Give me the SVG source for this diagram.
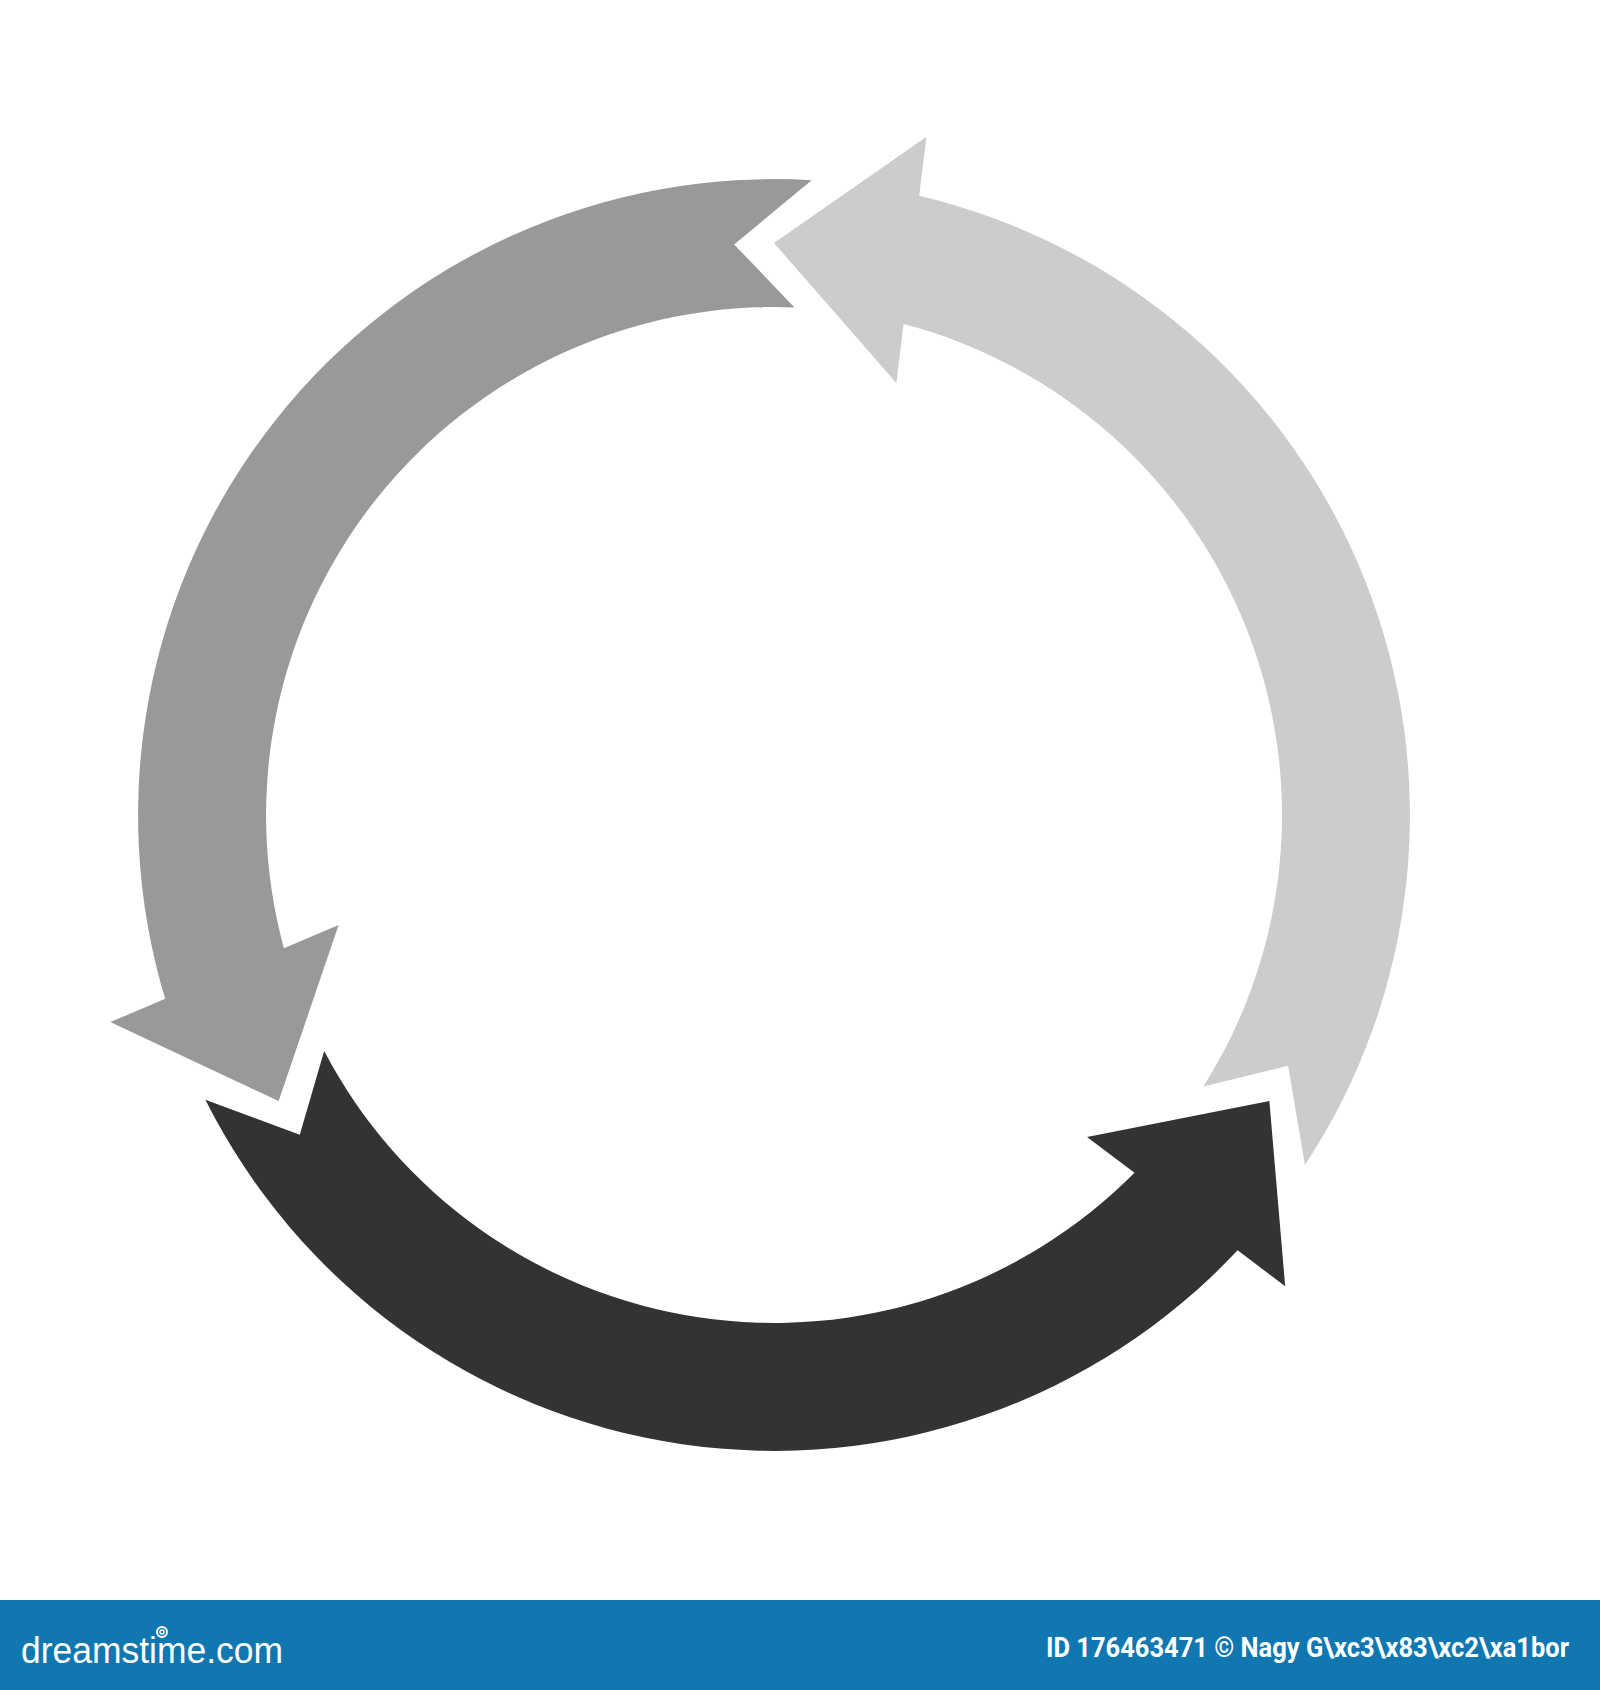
<svg xmlns="http://www.w3.org/2000/svg" xmlns:xlink="http://www.w3.org/1999/xlink" width="1600" height="1690" viewBox="0 0 1600 1690">
  <style>
    .a1 { fill: #cccccc; }
    .a2 { fill: #333333; }
    .a3 { fill: #999999; }
    .bar { fill: #1077b0; }
    .logo { font-family: "Liberation Sans", Arial, sans-serif; font-size: 36px; fill: #ffffff; }
    .credit { font-family: Roboto, "Liberation Sans", sans-serif; font-weight: 700; font-size: 27px; fill: #ffffff; }
  </style>
  <defs>
    <path id="arrow" d="M 1304.9 1165.1 A 636 636 0 0 0 919.2 195.85 L 926.5 136.7 L 774 243 L 896.4 382.9 L 903.6 323.9 A 508 508 0 0 1 1203.4 1086.5 L 1288.1 1065.8 Z"/>
  </defs>
  <rect x="0" y="0" width="1600" height="1690" fill="#ffffff"/>
  <g id="arrow-light">
    <use xlink:href="#arrow" href="#arrow" class="a1"/>
  </g>
  <g id="arrow-dark">
    <use xlink:href="#arrow" href="#arrow" class="a2" transform="rotate(120 774 815)"/>
  </g>
  <g id="arrow-mid">
    <use xlink:href="#arrow" href="#arrow" class="a3" transform="rotate(240 774 815)"/>
  </g>
  <g id="connectors"></g>
  <g id="footer">
    <rect class="bar" x="0" y="1600" width="1600" height="90"/>
    <text class="logo" x="21" y="1663" textLength="262" lengthAdjust="spacingAndGlyphs">dreamstime.com</text>
    <circle cx="162" cy="1632" r="5" fill="none" stroke="#ffffff" stroke-width="2"/>
    <circle cx="162" cy="1632" r="2" fill="none" stroke="#ffffff" stroke-width="1.5"/>
    <text class="credit" x="1046" y="1657" textLength="523" lengthAdjust="spacingAndGlyphs">ID 176463471 © Nagy G\xc3\x83\xc2\xa1bor</text>
  </g>
</svg>
